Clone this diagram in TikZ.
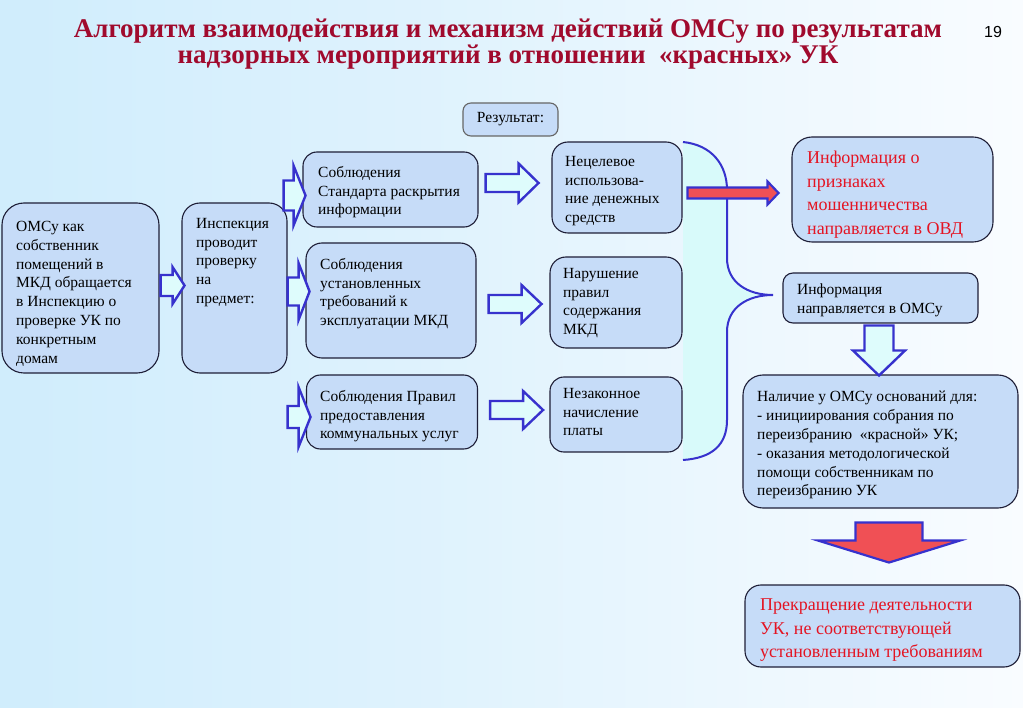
\documentclass[tikz,border=0pt]{standalone}
\usepackage{fontspec}
\setmainfont{Liberation Serif}
\newfontfamily\numfont{Liberation Sans}
\usetikzlibrary{calc}
\definecolor{bfill}{RGB}{198,220,248}
\definecolor{bdraw}{RGB}{30,30,55}
\definecolor{afill}{RGB}{222,252,252}
\definecolor{adraw}{RGB}{55,50,205}
\definecolor{rfill}{RGB}{240,80,85}
\definecolor{rtext}{RGB}{228,20,35}
\definecolor{ttl}{RGB}{160,10,45}
\definecolor{brfill}{RGB}{216,250,250}
\definecolor{bgA}{RGB}{200,234,252}
\definecolor{bgB}{RGB}{222,242,253}
\definecolor{bgC}{RGB}{249,252,255}
\pgfdeclarehorizontalshading{bgshade}{100bp}{color(0bp)=(bgA); color(14bp)=(bgA); color(45bp)=(bgB); color(75bp)=(bgC); color(100bp)=(bgC)}
\newcommand\rblk[6]{\draw[#1, shift={#2}] (0,-#3) -- (#5,-#3) -- (#5,-#4) -- (#6,0) -- (#5,#4) -- (#5,#3) -- (0,#3) -- cycle;}
\newcommand\dblk[6]{\draw[#1, shift={#2}] (-#3,0) -- (-#3,#5) -- (-#4,#5) -- (0,#6) -- (#4,#5) -- (#3,#5) -- (#3,0) -- cycle;}
\begin{document}
\begin{tikzpicture}[x=1pt,y=-1pt,
  box/.style={draw=bdraw, line width=1.1pt, fill=bfill, inner sep=0pt},
  txt/.style={anchor=north west, inner sep=0pt, align=left, font=\fontsize{15.5}{18.8}\selectfont},
  rtxt/.style={anchor=north west, inner sep=0pt, align=left, text=rtext, font=\fontsize{18}{23.5}\selectfont},
  barrow/.style={draw=adraw, fill=afill, line width=2.4pt, line join=miter},
  rarrow/.style={draw=adraw, fill=rfill, line width=2.2pt, line join=miter}]
\useasboundingbox (0,0) rectangle (1023,708);
\shade[shading=bgshade] (0,0) rectangle (1023,708);
% title
\node[anchor=north, align=center, text=ttl, inner sep=0pt,
  font=\fontsize{27}{26}\selectfont\bfseries] (title) at (508,19)
  {Алгоритм взаимодействия и механизм действий ОМСу по результатам\\надзорных мероприятий в отношении\ \ «красных» УК};
\node[inner sep=0pt, font=\numfont\fontsize{16}{16}\selectfont] (pnum) at (993,32) {19};
% brace
\draw[draw=adraw, line width=2pt, fill=brfill]
  (683,142) .. controls (712,145) and (727,165) .. (727,190)
  -- (727,258) .. controls (727,283) and (748,295) .. (773,295)
  .. controls (748,295) and (727,307) .. (727,332)
  -- (727,420) .. controls (727,445) and (712,458) .. (683,460);
% boxes
\node[box, minimum width=157pt, minimum height=170pt, rounded corners=22pt] (omsu) at (80.5,288) {};
\node[box, minimum width=105pt, minimum height=170pt, rounded corners=18pt] (insp) at (234.5,288) {};
\node[box, minimum width=175pt, minimum height=75pt, rounded corners=14pt] (s1) at (390.5,189.5) {};
\node[box, minimum width=170pt, minimum height=115pt, rounded corners=16pt] (s2) at (391,300.5) {};
\node[box, minimum width=171pt, minimum height=74pt, rounded corners=14pt] (s3) at (392,412) {};
\node[box, draw=gray!80!black, minimum width=95pt, minimum height=33pt, rounded corners=8pt,
  font=\fontsize{15.5}{19}\selectfont] (res) at (510.5,119.5) {Результат:};
\node[box, minimum width=130pt, minimum height=91pt, rounded corners=16pt] (n1) at (617,187.5) {};
\node[box, minimum width=132pt, minimum height=91pt, rounded corners=16pt] (n2) at (616,302.5) {};
\node[box, minimum width=132pt, minimum height=75pt, rounded corners=14pt] (n3) at (616,414.5) {};
\node[box, minimum width=201pt, minimum height=105pt, rounded corners=20pt] (ovd) at (892.5,189.5) {};
\node[box, minimum width=195pt, minimum height=50pt, rounded corners=10pt] (info) at (880.5,298) {};
\node[box, minimum width=275pt, minimum height=133pt, rounded corners=20pt] (nal) at (880.5,441.5) {};
\node[box, minimum width=275pt, minimum height=82pt, rounded corners=16pt] (stop) at (882.5,626) {};
% texts
\node[txt] (omsu-t) at (16,221) {ОМСу как\\собственник\\помещений в\\МКД обращается\\в Инспекцию о\\проверке УК по\\конкретным\\домам};
\node[txt] (insp-t) at (196,218) {Инспекция\\проводит\\проверку\\на\\предмет:};
\node[txt] (s1-t) at (318,166) {Соблюдения\\Стандарта раскрытия\\информации};
\node[txt] (s2-t) at (320,258) {Соблюдения\\установленных\\требований к\\эксплуатации МКД};
\node[txt] (s3-t) at (320,390) {Соблюдения Правил\\предоставления\\коммунальных услуг};
\node[txt] (n1-t) at (565,156) {Нецелевое\\использова-\\ние денежных\\средств};
\node[txt] (n2-t) at (563,268) {Нарушение\\правил\\содержания\\МКД};
\node[txt] (n3-t) at (563,388) {Незаконное\\начисление\\платы};
\node[rtxt] (ovd-t) at (807,151) {Информация о\\признаках\\мошенничества\\направляется в ОВД};
\node[txt] (info-t) at (797,284) {Информация\\направляется в ОМСу};
\node[txt] (nal-t) at (757,391) {Наличие у ОМСу оснований для:\\- инициирования собрания по\\переизбранию\ \ «красной» УК;\\- оказания методологической\\помощи собственникам по\\переизбранию УК};
\node[rtxt] (stop-t) at (760,599) {Прекращение деятельности\\УК, не соответствующей\\установленным требованиям};
% block arrows
\rblk{barrow}{([shift={(1,-2.5)}]omsu.east)}{10.5}{18.5}{12}{24}
\rblk{barrow}{([shift={(-4,6)}]insp.east |- s1.west)}{15}{30}{10}{22}
\rblk{barrow}{([shift={(0,-9)}]insp.east |- s2.west)}{14}{28.5}{11}{22}
\rblk{barrow}{([shift={(0,5)}]insp.east |- s3.west)}{11}{30}{11}{23}
\rblk{barrow}{([shift={(7,-6.5)}]s1.east)}{9}{19.5}{33}{53}
\rblk{barrow}{([shift={(12,3.5)}]s2.east)}{9}{19}{33}{53}
\rblk{barrow}{([shift={(12,-2)}]s3.east)}{9}{19}{33}{53}
\rblk{rarrow}{([shift={(5,5.5)}]n1.east)}{5.5}{11.5}{80}{91}
\dblk{barrow}{([shift={(-1.5,2)}]info.south)}{14.5}{26}{25}{50}
\dblk{rarrow}{([shift={(8.5,14)}]nal.south)}{33.5}{71}{18}{40}
\end{tikzpicture}
\end{document}
